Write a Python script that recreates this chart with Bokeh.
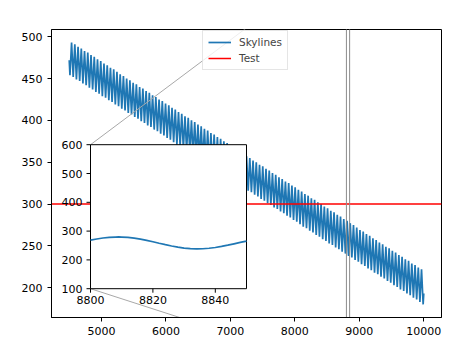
import numpy as np
from bokeh.plotting import figure
from bokeh.models import Range1d, FixedTicker, Legend, LegendItem
from bokeh.embed import file_html
from bokeh.resources import INLINE
from bokeh.core.properties import value

# ---------------- data ----------------
series_labels = ["Skylines", "Test"]
series_start_x, series_start_y = 4500, 472
series_end_x, series_end_y = 10000, 193
# successive troughs / peaks of the Skylines line, evenly spaced in x
extrema_first_x, extrema_last_x = 4511.3, 9990.3
extrema_y = [
    454, 493, 452, 491, 449, 488, 447, 486, 444, 483,
    442, 481, 439, 478, 437, 476, 434, 473, 432, 471,
    429, 468, 427, 466, 424, 463, 422, 461, 419, 458,
    417, 455, 414, 453, 412, 450, 409, 448, 407, 445,
    404, 443, 402, 440, 399, 438, 397, 435, 394, 433,
    392, 430, 389, 428, 387, 425, 384, 423, 382, 420,
    379, 418, 377, 415, 374, 413, 371, 410, 369, 408,
    366, 405, 364, 403, 361, 400, 359, 398, 356, 395,
    354, 393, 351, 390, 349, 388, 346, 385, 344, 383,
    341, 380, 339, 378, 336, 375, 334, 373, 331, 370,
    329, 368, 326, 365, 324, 362, 321, 360, 319, 357,
    316, 355, 314, 352, 311, 350, 309, 347, 306, 345,
    304, 342, 301, 340, 299, 337, 296, 335, 294, 332,
    291, 330, 289, 327, 286, 325, 284, 322, 281, 320,
    279, 317, 276, 315, 273, 312, 271, 310, 268, 307,
    266, 305, 263, 302, 261, 300, 258, 297, 256, 295,
    253, 292, 251, 290, 248, 287, 246, 285, 243, 282,
    241, 280, 238, 277, 236, 275, 233, 272, 231, 269,
    228, 267, 226, 264, 223, 262, 221, 259, 218, 257,
    216, 254, 213, 252, 211, 249, 208, 247, 206, 244,
    203, 242, 201, 239, 198, 237, 196, 234, 193, 232,
    191, 229, 188, 227, 186, 224, 183, 222, 180,
]
# detailed samples of the same line around the zoomed window
detail_x = [8786, 8788, 8790, 8792, 8794, 8796, 8798, 8800, 8802, 8804,
            8806, 8808, 8810, 8812, 8814, 8816, 8818, 8820, 8822, 8824,
            8826, 8828, 8830, 8832, 8834, 8836, 8838, 8840, 8842, 8844,
            8846, 8848, 8850, 8852, 8854, 8856, 8858]
detail_y = [241.4, 243.2, 246.0, 249.8, 254.2, 259.0, 263.9, 268.5, 272.6, 276.0,
            278.3, 279.4, 279.4, 278.1, 275.6, 272.1, 267.8, 263.0, 257.9, 252.9,
            248.3, 244.3, 241.2, 239.1, 238.3, 238.7, 240.4, 243.1, 246.7, 251.1,
            255.9, 260.7, 265.4, 269.6, 273.1, 275.5, 276.8]
test_level = 300
zoom_x = [8800, 8850]
zoom_y = [100, 600]
main_xticks = [5000, 6000, 7000, 8000, 9000, 10000]
main_yticks = [200, 250, 300, 350, 400, 450, 500]
inset_xticks = [8800, 8820, 8840]
inset_yticks = [100, 200, 300, 400, 500, 600]

# ---------------- layout / style ----------------
W, H = 474, 353
B_LEFT, B_RIGHT, B_TOP, B_BOTTOM = 51, 33, 29, 36
FRAME_W = W - B_LEFT - B_RIGHT
FRAME_H = H - B_TOP - B_BOTTOM
INSET = (0.1, 0.1, 0.4, 0.5)  # left, bottom, width, height in axes fraction
BLUE = "#1f77b4"
RED = "#ff0000"
FONT = "DejaVu Sans"
FS = "11px"
LEG_FS = "10.5px"
TICK = 4
LW = 1.7

# ---------------- build series ----------------
ex_x = np.linspace(extrema_first_x, extrema_last_x, len(extrema_y))
xs = np.concatenate([[series_start_x], ex_x, detail_x, [series_end_x]]).astype(float)
ys = np.concatenate([[series_start_y], extrema_y, detail_y, [series_end_y]]).astype(float)
order = np.argsort(xs, kind="stable")
xs, ys = xs[order], ys[order]

xmin, xmax = xs.min(), xs.max()
ymin, ymax = ys.min(), ys.max()
xpad = 0.05 * (xmax - xmin)
ypad = 0.05 * (ymax - ymin)
x_lo, x_hi = xmin - xpad, xmax + xpad
y_lo, y_hi = ymin - ypad, ymax + ypad

p = figure(width=W, height=H, x_range=Range1d(x_lo, x_hi), y_range=Range1d(y_lo, y_hi),
           output_backend="svg", toolbar_location=None,
           min_border_left=B_LEFT, min_border_right=B_RIGHT,
           min_border_top=B_TOP, min_border_bottom=B_BOTTOM)
p.xgrid.visible = False
p.ygrid.visible = False
p.outline_line_color = "black"
p.outline_line_width = 1
p.background_fill_color = "white"
p.border_fill_color = "white"

for ax, ticks in ((p.xaxis[0], main_xticks), (p.yaxis[0], main_yticks)):
    ax.ticker = FixedTicker(ticks=ticks)
    ax.minor_tick_line_color = None
    ax.major_tick_in = 0
    ax.major_tick_out = TICK
    ax.major_label_standoff = 5
    ax.major_label_text_font = FONT
    ax.major_label_text_font_size = FS
    ax.major_label_text_color = "black"
    ax.axis_line_color = "black"
    ax.major_tick_line_color = "black"

# main series
main_r = p.line(xs, ys, line_color=BLUE, line_width=LW)
test_r = p.line([x_lo, x_hi], [test_level, test_level], line_color=RED, line_width=1.5)

# zoom-window marker rectangle
p.quad(left=zoom_x[0], right=zoom_x[1], bottom=zoom_y[0], top=zoom_y[1],
       fill_color=None, line_color="#8c8c8c", line_width=1)

# connectors from inset corners to the rectangle corners
il, ib, iw, ih = INSET
inset_left_x = x_lo + il * (x_hi - x_lo)
inset_top_y = y_lo + (ib + ih) * (y_hi - y_lo)
inset_bot_y = y_lo + ib * (y_hi - y_lo)
p.segment(x0=[inset_left_x, inset_left_x], y0=[inset_top_y, inset_bot_y],
          x1=[zoom_x[0], zoom_x[0]], y1=[zoom_y[1], zoom_y[0]],
          line_color="#a8a8a8", line_width=1)

# ---------------- inset (drawn via extra ranges) ----------------
zx_span = zoom_x[1] - zoom_x[0]
zy_span = zoom_y[1] - zoom_y[0]
ix_lo = zoom_x[0] - il / iw * zx_span
ix_hi = zoom_x[1] + (1 - il - iw) / iw * zx_span
iy_lo = zoom_y[0] - ib / ih * zy_span
iy_hi = zoom_y[1] + (1 - ib - ih) / ih * zy_span
p.extra_x_ranges = {"ix": Range1d(ix_lo, ix_hi)}
p.extra_y_ranges = {"iy": Range1d(iy_lo, iy_hi)}
kw = dict(x_range_name="ix", y_range_name="iy")

p.quad(left=zoom_x[0], right=zoom_x[1], bottom=zoom_y[0], top=zoom_y[1],
       fill_color="white", line_color="black", line_width=1, **kw)
mask = (xs >= zoom_x[0]) & (xs <= zoom_x[1])
p.line(xs[mask], ys[mask], line_color=BLUE, line_width=LW, **kw)

ux = (ix_hi - ix_lo) / FRAME_W   # inset x units per pixel
uy = (iy_hi - iy_lo) / FRAME_H   # inset y units per pixel
p.segment(x0=inset_xticks, x1=inset_xticks, y0=[zoom_y[0]] * len(inset_xticks),
          y1=[zoom_y[0] - TICK * uy] * len(inset_xticks), line_color="black", line_width=1, **kw)
p.segment(x0=[zoom_x[0]] * len(inset_yticks), x1=[zoom_x[0] - TICK * ux] * len(inset_yticks),
          y0=inset_yticks, y1=inset_yticks, line_color="black", line_width=1, **kw)
p.text(x=inset_xticks, y=[zoom_y[0]] * len(inset_xticks), text=[str(t) for t in inset_xticks],
       text_align="center", text_baseline="top", y_offset=TICK + 3,
       text_font=value(FONT), text_font_size=value(FS), text_color="black", **kw)
p.text(x=[zoom_x[0]] * len(inset_yticks), y=inset_yticks, text=[str(t) for t in inset_yticks],
       text_align="right", text_baseline="middle", x_offset=-(TICK + 4),
       text_font=value(FONT), text_font_size=value(FS), text_color="black", **kw)

# ---------------- legend ----------------
legend = Legend(items=[LegendItem(label=series_labels[0], renderers=[main_r]),
                       LegendItem(label=series_labels[1], renderers=[test_r])],
                location=(151, 247), orientation="vertical",
                label_text_font=FONT, label_text_font_size=LEG_FS,
                glyph_width=23, glyph_height=12, label_height=12,
                spacing=4, padding=5, margin=0, label_standoff=8,
                border_line_color="#cccccc", border_line_width=1,
                background_fill_color="white", background_fill_alpha=0.8)
p.add_layout(legend)

open("out.html", "w").write(file_html(p, INLINE))
